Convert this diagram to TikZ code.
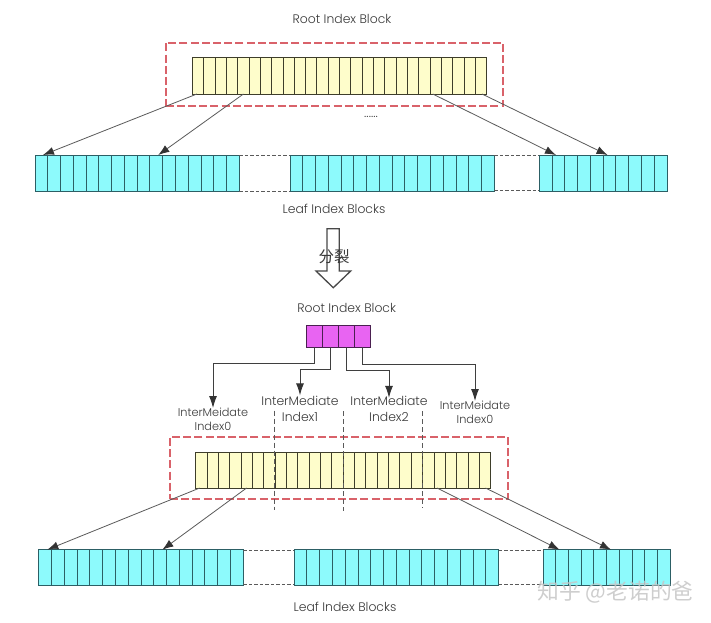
\documentclass[tikz,border=0pt]{standalone}
\usepackage{fontspec}
\setmainfont{Poppins}[UprightFont={* Light}]
\newfontfamily\cjk{Noto Sans CJK SC}
\usetikzlibrary{arrows.meta,calc}
\definecolor{yel}{HTML}{FEFDCB}
\definecolor{yelline}{HTML}{3E3E2A}
\definecolor{cy}{HTML}{8DFAFC}
\definecolor{cyline}{HTML}{2C5F65}
\definecolor{mag}{HTML}{E864F2}
\definecolor{magline}{HTML}{4A2050}
\definecolor{redd}{HTML}{D9626A}
\definecolor{ln}{HTML}{5A5A5A}
\definecolor{txt}{HTML}{3A3A3A}
\definecolor{tipc}{HTML}{333333}
\tikzset{
  cellbox/.style={draw,inner sep=0pt,outer sep=0pt,line width=0.95pt},
  yelcell/.style={cellbox,fill=yel,draw=yelline},
  cycell/.style={cellbox,fill=cy,draw=cyline},
  magcell/.style={cellbox,fill=mag,draw=magline},
  redbox/.style={draw=redd,line width=2pt,dash pattern=on 8pt off 3.2pt,inner sep=0pt,outer sep=0pt},
  lbl/.style={text=txt,font=\fontsize{12.4}{15.5}\selectfont,align=center,inner sep=0pt},
  lblsmall/.style={text=txt,font=\fontsize{11.3}{14}\selectfont,align=center,inner sep=0pt},
  link/.style={draw=ln,line width=0.8pt,-{Latex[length=11pt,width=8pt,color=tipc]}},
  elbow/.style={draw=ln!70!black,line width=0.95pt,-{Latex[length=12pt,width=8pt,color=tipc]}},
  gapdash/.style={draw=ln,line width=0.9pt,dash pattern=on 3.5pt off 2pt},
  cutline/.style={draw=ln,line width=0.95pt,dash pattern=on 5pt off 3pt}
}
% name, left, top, right, bottom, count, style
\newcommand{\cellrow}[7]{%
  \pgfmathsetmacro{\cw}{(#4-#2)/#6}%
  \pgfmathsetmacro{\ch}{#5-#3}%
  \foreach \i in {1,...,#6}{%
    \pgfmathsetmacro{\cx}{#2+(\i-0.5)*\cw}%
    \pgfmathsetmacro{\cy}{(#3+#5)/2}%
    \node[#7,minimum width=\cw pt,minimum height=\ch pt] (#1-\i) at (\cx,\cy) {};%
  }%
}
\begin{document}
\begin{tikzpicture}[x=1pt,y=-1pt]
\useasboundingbox (0,0) rectangle (711,622);
\fill[white] (0,0) rectangle (711,622);
% upper part
\node[lbl] (t1) at (342,19) {Root Index Block};
\node[redbox,minimum width=337.5pt,minimum height=63.5pt] (rb1) at (334.4,74.4) {};
\cellrow{ta}{192.5}{57.5}{486.7}{94}{26}{yelcell}
\node[lbl] (dots1) at (371,117) {......};
\cellrow{la}{35}{155}{239.3}{191.7}{16}{cycell}
\cellrow{lb}{290}{155}{494.3}{191.7}{16}{cycell}
\cellrow{lc}{539.3}{155}{667}{191.7}{10}{cycell}
\draw[gapdash] ([yshift=-0.7pt]la-16.north east) -- ([yshift=-0.7pt]lb-1.north west);
\draw[gapdash] ([yshift=0.7pt]la-16.south east) -- ([yshift=0.7pt]lb-1.south west);
\draw[gapdash] ([yshift=-0.7pt]lb-16.north east) -- ([yshift=-0.7pt]lc-1.north west);
\draw[gapdash] ([yshift=1pt]lb-16.south east) -- ([yshift=1pt]lc-1.south west);
\draw[link] ([xshift=-1.3pt]ta-1.south) -- ([xshift=1.6pt]la-1.north);
\draw[link] (ta-5.south) -- ([xshift=2pt]la-10.north);
\draw[link] ([xshift=-3pt]ta-22.south) -- ([xshift=-2.5pt]lc-2.north);
\draw[link] ([xshift=1pt]ta-26.south) -- ([xshift=-2pt]lc-6.north);
\node[lbl] (l1) at (334,209) {Leaf Index Blocks};
% split arrow
\draw[draw=ln!80!black,line width=1.3pt,line join=miter,fill=white]
  (327,228.7) -- (339.3,228.7) -- (339.3,271) -- (350.7,271) -- (333.3,287.7) -- (316,271) -- (327,271) -- cycle;
\node[text=txt,inner sep=0pt,font=\cjk\fontsize{15.5}{16}\selectfont] (split) at (334,256.5) {分裂};
% lower part
\node[lbl] (t2) at (346.7,307.7) {Root Index Block};
\cellrow{m}{306.7}{325.7}{370.7}{347}{4}{magcell}
\node[lblsmall] (i0) at (213,419) {InterMeidate\\Index0};
\node[lbl] (i1) at (300,409) {InterMediate\\Index1};
\node[lbl] (i2) at (389,409) {InterMediate\\Index2};
\node[lblsmall] (i3) at (475,412) {InterMeidate\\Index0};
\draw[elbow] (m-1.south) -- ++(0,16.3) -| ([yshift=-0.5pt]i0.north);
\draw[elbow] (m-2.south) -- ++(0,22.3) -| ([yshift=1pt]i1.north);
\draw[elbow] (m-3.south) -- ++(0,23.3) -| ([yshift=-1.5pt]i2.north);
\draw[elbow] (m-4.south) -- ++(0,17) -| ([yshift=-0.5pt]i3.north);
\node[redbox,minimum width=337.7pt,minimum height=62.6pt] (rb2) at (338.85,468) {};
\cellrow{tb}{195.7}{452}{490.7}{488}{26}{yelcell}
\draw[cutline] (274,410.7) -- (274,510);
\draw[cutline] (343.7,411) -- (343.7,511);
\draw[cutline] (422,411) -- (422,508);
\cellrow{lx}{38.7}{549.7}{243.3}{585.7}{16}{cycell}
\cellrow{ly}{294}{549.7}{498.7}{585.7}{16}{cycell}
\cellrow{lz}{543}{549.7}{670.3}{585.7}{10}{cycell}
\draw[gapdash] ([yshift=-1pt]lx-16.north east) -- ([yshift=-1pt]ly-1.north west);
\draw[gapdash] ([yshift=1pt]lx-16.south east) -- ([yshift=1pt]ly-1.south west);
\draw[gapdash] ([yshift=-1pt]ly-16.north east) -- ([yshift=-1pt]lz-1.north west);
\draw[gapdash] ([yshift=1pt]ly-16.south east) -- ([yshift=1pt]lz-1.south west);
\draw[link] ([xshift=-1.7pt]tb-1.south) -- ([xshift=2.2pt]lx-1.north);
\draw[link] ([xshift=-0.2pt]tb-5.south) -- ([xshift=2.2pt]lx-10.north);
\draw[link] ([xshift=-2.5pt]tb-22.south) -- ([xshift=-2.5pt]lz-2.north);
\draw[link] ([xshift=0.5pt]tb-26.south) -- ([xshift=-2pt]lz-6.north);
\node[lbl] (l2) at (345,606.7) {Leaf Index Blocks};
% watermark
\node[inner sep=0pt,text=gray!45,font=\cjk\fontsize{21.8}{22}\selectfont,fill opacity=0.85,text opacity=0.85] (wm) at (615.5,592) {知乎 @老诺的爸};
\end{tikzpicture}
\end{document}
